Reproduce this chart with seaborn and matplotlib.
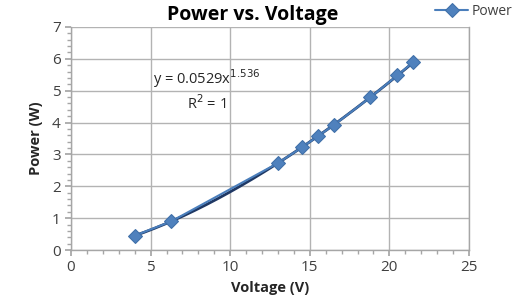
import numpy as np
import pandas as pd
import matplotlib
matplotlib.use("Agg")
import matplotlib.pyplot as plt
import seaborn as sns
from matplotlib.ticker import MultipleLocator

voltage = [4.0, 6.3, 13.0, 14.5, 15.5, 16.5, 18.8, 20.5, 21.5]
power = [0.45, 0.9, 2.73, 3.22, 3.57, 3.92, 4.79, 5.48, 5.9]
x_ticks = [0, 5, 10, 15, 20, 25]
y_ticks = [0, 1, 2, 3, 4, 5, 6, 7]
equation_text = "y = 0.0529x$^{1.536}$\nR$^{2}$ = 1"

sns.set_theme(style="white")
plt.rcParams['font.family'] = ['Open Sans', 'DejaVu Sans']

df = pd.DataFrame({"Voltage": voltage, "Power": power})

fig = plt.figure(figsize=(5.2, 3.03), dpi=100)
ax = fig.add_axes([71/520, 53/303, 398/520, 223/303])

# power trendline fitted from data
b, loga = np.polyfit(np.log(df.Voltage), np.log(df.Power), 1)
xs = np.linspace(min(voltage), max(voltage), 200)
ax.plot(xs, np.exp(loga) * xs ** b, color="#1F3864", lw=2.0, zorder=3)

sns.lineplot(data=df, x="Voltage", y="Power", ax=ax, color="#4A7EBB", lw=1.5,
             marker="D", markersize=7, markerfacecolor="#4F81BD",
             markeredgecolor="#3F6FA8", label="Power", zorder=4)

ax.set_xlim(0, 25)
ax.set_ylim(0, 7)
ax.set_xticks(x_ticks)
ax.set_yticks(y_ticks)
ax.xaxis.set_minor_locator(MultipleLocator(1))
ax.yaxis.set_minor_locator(MultipleLocator(0.2))
ax.grid(True, which="major", color="#B3B3B3", lw=1.0)
ax.tick_params(axis="both", which="major", labelsize=11, labelcolor="#404040",
               length=4, color="#A6A6A6", direction="out", bottom=True, left=True)
ax.tick_params(axis="both", which="minor", length=3, color="#A6A6A6",
               direction="out", bottom=True, left=True)
for side in ["left", "bottom", "right", "top"]:
    ax.spines[side].set_color("#A6A6A6")
    ax.spines[side].set_linewidth(1.0)
ax.spines["top"].set_visible(False)

ax.set_xlabel("Voltage (V)", fontsize=10.5, fontweight="bold", color="#262626", labelpad=4)
ax.set_ylabel("Power (W)", fontsize=10.5, fontweight="bold", color="#262626", labelpad=6)
fig.text(253/520, 1 - 15/303, "Power vs. Voltage", fontsize=14, fontweight="bold",
         color="black", ha="center", va="center")

ax.text(8.5, 5.02, equation_text, ha="center", va="center", fontsize=10.5,
        color="#262626", linespacing=1.25)

leg = ax.legend(loc="upper left", bbox_to_anchor=((435 - 71)/398, 1 + 23/223), frameon=False,
                fontsize=10, handlelength=2.4, borderaxespad=0, handletextpad=0.25,
                borderpad=0)
for t in leg.get_texts():
    t.set_color("#404040")

fig.savefig("out.png", dpi=100)
